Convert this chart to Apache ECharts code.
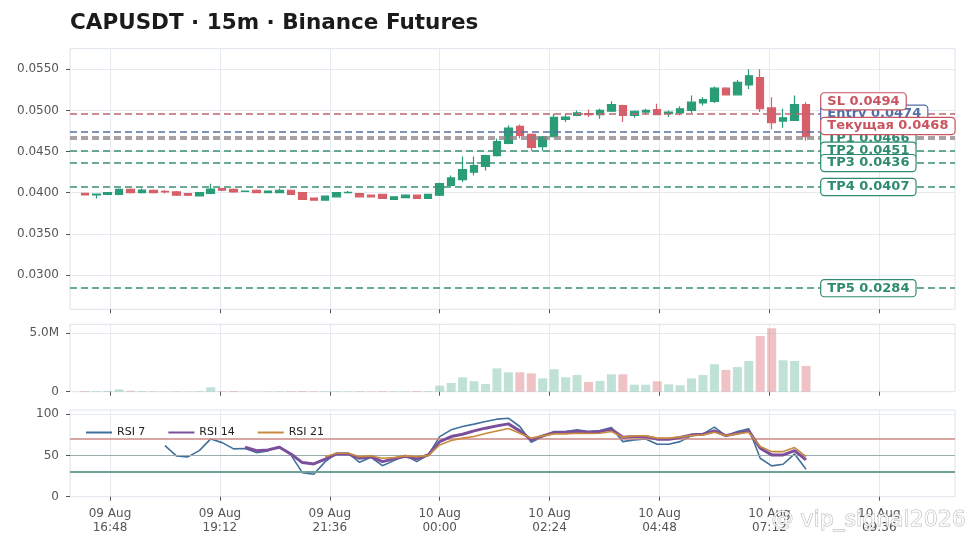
<!DOCTYPE html>
<html><head><meta charset="utf-8">
<script src="https://cdn.jsdelivr.net/npm/echarts@6/dist/echarts.min.js"></script>
<style>html,body{margin:0;padding:0;background:#fff}#c{width:971px;height:548px}</style>
</head><body><div id="c"></div>
<script>
// ---- data ----
const chartTitle = 'CAPUSDT · 15m · Binance Futures';
const firstCandleMinute = 975;   // 09 Aug 16:15 (minutes since 09 Aug 00:00)
const candleStep = 15;
const opens  = [0.03993,0.03972,0.0398,0.0398,0.0404,0.0400,0.0403,0.04015,0.0401,0.0399,0.0396,0.0399,0.0405,0.0404,0.04015,0.0403,0.0400,0.0400,0.0403,0.0400,0.03935,0.0391,0.0395,0.0400,0.0399,0.0397,0.0398,0.0392,0.0394,0.0397,0.0393,0.0397,0.0409,0.0416,0.0425,0.0432,0.0445,0.0460,0.04805,0.0471,0.0456,0.0468,0.0489,0.0494,0.0496,0.0495,0.0499,0.0506,0.0494,0.0498,0.0501,0.0496,0.0497,0.0500,0.0509,0.0511,0.0527,0.0519,0.0531,0.0540,0.0503,0.0487,0.0488,0.0507];
const closes = [0.03972,0.03984,0.0400,0.0404,0.0400,0.04033,0.0400,0.0401,0.0397,0.0397,0.0400,0.04045,0.0403,0.0401,0.0402,0.0400,0.0402,0.0403,0.0398,0.0392,0.0391,0.0396,0.0400,0.04005,0.0395,0.0395,0.0393,0.0395,0.0397,0.0393,0.0398,0.0411,0.0418,0.0428,0.0433,0.0445,0.0462,0.04785,0.04695,0.0455,0.0468,0.04915,0.0492,0.0497,0.0495,0.0500,0.0507,0.0494,0.0499,0.0500,0.0495,0.0498,0.0502,0.0510,0.0513,0.0527,0.0519,0.0534,0.0542,0.0502,0.0485,0.0491,0.0507,0.0468];
const lows   = [0.0397,0.0393,0.0397,0.0397,0.0399,0.0399,0.0399,0.0399,0.0396,0.0396,0.0396,0.0398,0.0402,0.0400,0.0401,0.0400,0.0400,0.0400,0.0398,0.0392,0.0391,0.0391,0.0395,0.0399,0.0395,0.0395,0.0393,0.0391,0.0394,0.0393,0.0393,0.0396,0.0408,0.0413,0.0421,0.0427,0.0444,0.0459,0.0466,0.0451,0.0451,0.0467,0.0486,0.0493,0.0492,0.0490,0.0498,0.0486,0.0491,0.0495,0.0495,0.0492,0.0494,0.0497,0.0506,0.0509,0.0518,0.0518,0.0526,0.0498,0.0477,0.0479,0.0487,0.0463];
const highs  = [0.0400,0.0399,0.0401,0.0405,0.0405,0.0405,0.0404,0.0403,0.0402,0.0399,0.0400,0.0411,0.0406,0.0405,0.0402,0.0404,0.0402,0.0405,0.0404,0.0400,0.03935,0.0396,0.0401,0.0402,0.0399,0.0397,0.0398,0.0395,0.0398,0.0397,0.0398,0.0412,0.0421,0.0444,0.0444,0.0446,0.0466,0.0482,0.0483,0.0472,0.0469,0.0496,0.0496,0.0500,0.0501,0.0502,0.0511,0.0507,0.0500,0.0502,0.0508,0.0500,0.0505,0.0518,0.0516,0.0529,0.0528,0.0537,0.0550,0.0550,0.0516,0.0502,0.0518,0.0510];
const volumesM = [0.06,0.05,0.07,0.2,0.08,0.06,0.03,0.02,0.03,0.02,0.05,0.38,0.04,0.06,0.02,0.02,0.03,0.04,0.05,0.06,0.04,0.05,0.04,0.03,0.05,0.03,0.05,0.04,0.05,0.06,0.05,0.52,0.75,1.23,0.9,0.66,2.0,1.66,1.66,1.57,1.14,1.92,1.23,1.43,0.83,0.92,1.49,1.49,0.6,0.6,0.89,0.63,0.55,1.14,1.43,2.35,1.86,2.11,2.63,4.77,5.43,2.69,2.63,2.2];
const rsi7Start = 7;
const rsi7Values = [61.9,49.4,48.2,55.8,70.0,65.5,57.9,58.3,53.4,55.5,60.7,50.6,29.1,27.2,42.5,52.7,52.7,41.7,47.8,37.6,43.7,49.8,42.5,50.6,72.8,81,85,87.9,91,93.9,95.1,85,66,72.8,78.9,78.9,81,78.9,80.1,83.7,66.7,68.8,70,63.6,63.6,66.7,74,76.1,84.2,73.7,78.9,82.2,46.6,37.3,39.3,51.8,33.3];
const rsi14Start = 14;
const rsi14Values = [59.9,55.8,56.7,59.9,51.8,41.3,39.7,45.4,51.8,51.8,46.6,48.5,42.5,45.8,49,45.8,50.6,66.7,72.8,75.7,79.7,83,85.8,88.2,79.7,68.8,73.7,77.7,78.1,78.9,78.1,78.9,81.8,72.1,72.8,72.8,69.7,69.7,71.6,74.9,75.7,79.7,74,76.9,79.7,58.7,50.6,50.6,55.8,44.5];
const rsi21Start = 21;
const rsi21Values = [48.5,52.7,52.7,48.5,49.4,46.6,47.3,49.4,48.5,49.8,62.7,68,70.9,73,76.5,79.5,82.5,76.9,70.9,73.7,76.1,76.1,76.9,76.5,76.9,78.9,72.1,73.7,73.7,70.9,70.9,72.1,74,74.9,78.1,74,76.1,78.1,60.7,54.6,54.6,59.5,48.5];
const rsiNames = ['RSI 7','RSI 14','RSI 21'];
const rsiLevels = [70, 50, 30];
const levelNames  = ['SL','Entry','Текущая','TP1','TP2','TP3','TP4','TP5'];
const levelValues = [0.0494,0.0474,0.0468,0.0466,0.0451,0.0436,0.0407,0.0284];
const levelLineValues = [0.04965,0.0474,0.0468,0.0466,0.0451,0.0436,0.0407,0.0284];
const xTickMinutes = [1008,1152,1296,1440,1584,1728,1872,2016];
const priceTicks = [0.030,0.035,0.040,0.045,0.050,0.055];
const volumeTicks = [0, 5e6];
const rsiTicks = [0, 50, 100];
const watermarkText = '@ vip_signal2026';

// ---- styles / layout ----
const UP = '#2a9d78', DOWN = '#d65f69';
const FONT = '"DejaVu Sans", sans-serif';
const levelColors = ['#c9545f','#4f6fa8','#c9545f','#2e8b6f','#2e8b6f','#2e8b6f','#2e8b6f','#2e8b6f'];
const levelLineColors = ['#c06670','#56709e','#93808a','#88857f','#3a8f74','#3a8f74','#3a8f74','#3a8f74'];
const rsiColors = ['#40709c','#7b4f9c','#c98a3e'];
const rsiWidths = [1.6, 3, 1.6];
const rsiLevelColors = ['#cc8a84','#9aabad','#6fa198'];
const rsiLevelWidths = [1.5, 1.2, 2.2];
const drawOrder = [1,3,4,5,6,7,0,2];
const labelGap = 0.0015;
const labelXOffset = 20; // minutes after last candle
const X_MIN = 955.6, X_MAX = 2115.2;

const times = opens.map((_, i) => firstCandleMinute + i * candleStep);
const candleData = times.map((t, i) => [t, opens[i], closes[i], lows[i], highs[i]]);
const volData = times.map((t, i) => ({
  value: [t, volumesM[i] * 1e6],
  itemStyle: { color: closes[i] >= opens[i] ? 'rgba(42,157,120,0.30)' : 'rgba(214,95,105,0.38)' }
}));
function rsiSeriesData(start, vals) { return vals.map((v, k) => [times[start + k], v]); }
const rsiData = [rsiSeriesData(rsi7Start, rsi7Values), rsiSeriesData(rsi14Start, rsi14Values), rsiSeriesData(rsi21Start, rsi21Values)];

// label placement (spread upward to avoid overlap)
const sortedIdx = levelValues.map((v, i) => i).sort((a, b) => levelValues[a] - levelValues[b]);
const labelPrice = [];
let prev = -Infinity;
sortedIdx.forEach(i => { const p = Math.max(levelValues[i], prev + labelGap); labelPrice[i] = p; prev = p; });
const labelX = times[times.length - 1] + labelXOffset;
const labelData = drawOrder.map(i => [labelX, labelPrice[i], i]);

function fmtX(m) {
  const day = m >= 1440 ? '10 Aug' : '09 Aug';
  const mm = m % 1440;
  const h = String(Math.floor(mm / 60)).padStart(2, '0');
  const mi = String(mm % 60).padStart(2, '0');
  return day + '\n' + h + ':' + mi;
}

const grids = [
  { left: 70, right: 16, top: 48.7, height: 260.6 },
  { left: 70, right: 16, top: 324.3, height: 67.4 },
  { left: 70, right: 16, top: 410, height: 86.7 }
].map(g => Object.assign(g, { show: true, borderColor: '#dde3ea', borderWidth: 1, containLabel: false }));

const gridLine = { show: true, lineStyle: { color: '#e5eaf0', width: 1 } };
const xAxes = [0, 1, 2].map(gi => ({
  type: 'value', gridIndex: gi, min: X_MIN, max: X_MAX,
  axisLine: { show: false },
  axisTick: { show: true, customValues: xTickMinutes, length: 4, lineStyle: { color: '#555' } },
  axisLabel: { show: gi === 2, customValues: xTickMinutes, formatter: fmtX, color: '#555', fontSize: 12, fontFamily: FONT, lineHeight: 14, margin: 10 },
  splitLine: gridLine
}));
function yAxis(gi, min, max, ticks, fmt) {
  return {
    type: 'value', gridIndex: gi, min, max,
    axisLine: { show: false },
    axisTick: { show: true, customValues: ticks, length: 4, lineStyle: { color: '#555' } },
    axisLabel: { customValues: ticks, formatter: fmt, color: '#555', fontSize: 12, fontFamily: FONT, margin: 11 },
    splitLine: gridLine
  };
}

const option = {
  backgroundColor: '#fff',
  animation: false,
  title: { text: chartTitle, left: 65, top: 7, textStyle: { fontSize: 21.5, fontWeight: 'bold', color: '#1b1b1b', fontFamily: FONT } },
  legend: {
    data: rsiNames, left: 80, top: 422, itemWidth: 26, itemHeight: 10, itemGap: 22,
    itemStyle: { opacity: 0 },
    textStyle: { fontSize: 11, color: '#222', fontFamily: FONT }
  },
  grid: grids,
  xAxis: xAxes,
  yAxis: [
    yAxis(0, 0.02583, 0.0575, priceTicks, v => v.toFixed(4)),
    yAxis(1, 0, 5.77e6, volumeTicks, v => v === 0 ? '0' : (v / 1e6).toFixed(1) + 'M'),
    yAxis(2, 0, 105, rsiTicks, v => String(v))
  ],
  series: [
    {
      type: 'candlestick', xAxisIndex: 0, yAxisIndex: 0, data: candleData,
      encode: { x: 0, y: [1, 2, 3, 4] }, barWidth: 8,
      itemStyle: { color: UP, color0: DOWN, borderColor: UP, borderColor0: DOWN, borderWidth: 1.2 },
      markLine: {
        silent: true, symbol: 'none', animation: false, precision: 6, label: { show: false },
        data: levelLineValues.map((v, i) => ({ yAxis: v, lineStyle: { color: levelLineColors[i], type: [7, 4], width: 1.7 } }))
      },
      z: 3
    },
    {
      type: 'bar', xAxisIndex: 1, yAxisIndex: 1, data: volData, barWidth: 9
    },
    ...rsiNames.map((n, k) => ({
      name: n, type: 'line', xAxisIndex: 2, yAxisIndex: 2, data: rsiData[k],
      symbol: 'none', lineStyle: { color: rsiColors[k], width: rsiWidths[k] }, itemStyle: { color: rsiColors[k] },
      z: 4 + k,
      markLine: k === 0 ? {
        silent: true, symbol: 'none', animation: false, precision: 4, label: { show: false },
        data: rsiLevels.map((v, j) => ({ yAxis: v, lineStyle: { color: rsiLevelColors[j], type: 'solid', width: rsiLevelWidths[j] } }))
      } : undefined
    })),
    {
      type: 'custom', xAxisIndex: 0, yAxisIndex: 0, data: labelData, clip: false, z: 10, silent: true,
      renderItem: (params, api) => {
        const i = api.value(2);
        const p = api.coord([api.value(0), api.value(1)]);
        const col = levelColors[i];
        return {
          type: 'text', x: p[0], y: p[1],
          style: {
            text: levelNames[i] + ' ' + levelValues[i].toFixed(4),
            fill: col, font: 'bold 13px ' + FONT, align: 'left', verticalAlign: 'middle',
            backgroundColor: '#fff', borderColor: col, borderWidth: 1.2, borderRadius: 3, padding: [2, 6, 1, 6]
          }
        };
      }
    }
  ],
  graphic: [{
    type: 'text', left: 771, top: 509, z: 100,
    style: { text: watermarkText, font: '22px ' + FONT, fill: 'rgba(255,255,255,0.85)', stroke: 'rgba(90,90,90,0.45)', lineWidth: 1 }
  }]
};

const chart = echarts.init(document.getElementById('c'));
chart.setOption(option);
</script>
</body></html>
